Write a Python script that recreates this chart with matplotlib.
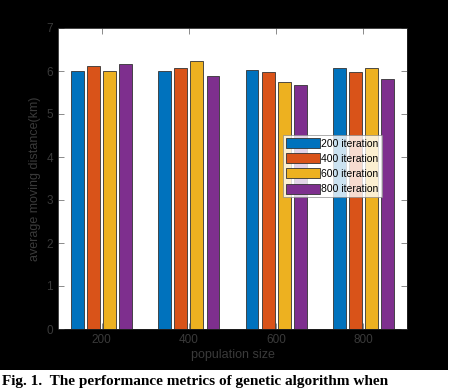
import numpy as np
import matplotlib.pyplot as plt

groups = ['200', '400', '600', '800']
series = ['200 iteration', '400 iteration', '600 iteration', '800 iteration']
it200 = [5.99, 6.01, 6.02, 6.06]
it400 = [6.12, 6.08, 5.98, 5.97]
it600 = [5.99, 6.23, 5.74, 6.06]
it800 = [6.16, 5.89, 5.68, 5.82]
colors = ['#0072BD', '#D95319', '#EDB120', '#7E2F8E']

fig = plt.figure(figsize=(4.74, 3.9), dpi=100)
fig.patch.set_facecolor('white')
# black backdrop behind the plot, caption below it
bg = fig.add_axes([0, 1 - 370 / 390, 448 / 474, 370 / 390])
bg.set_facecolor('black')
bg.set_xticks([])
bg.set_yticks([])
for s in bg.spines.values():
    s.set_visible(False)

ax = fig.add_axes([58 / 474, 1 - 329 / 390, 349 / 474, 301 / 390])
ax.set_facecolor('white')

x = np.arange(1, len(groups) + 1)
pitch = 0.184
width = 0.147
for i, (vals, name) in enumerate(zip([it200, it400, it600, it800], series)):
    ax.bar(x + (i - 1.5) * pitch, vals, width, color=colors[i],
           edgecolor='#333333', linewidth=0.6, label=name)

ax.set_xlim(0.5, 4.5)
ax.set_ylim(0, 7)
ax.set_xticks(x)
ax.set_xticklabels(groups)
ax.set_yticks(range(0, 8))
txt = '#3a3a3a'
ax.tick_params(direction='in', top=True, right=True, length=4, width=0.6,
               color='#777777', labelcolor=txt, labelsize=8.5)
for lab in ax.get_xticklabels() + ax.get_yticklabels():
    lab.set_family('Liberation Sans')
for s in ax.spines.values():
    s.set_color('#222222')
    s.set_linewidth(0.6)
ax.set_xlabel('population size', color=txt, fontsize=9, family='Liberation Sans', labelpad=2)
ax.set_ylabel('average moving distance(km)', color=txt, fontsize=9, family='Liberation Sans', labelpad=4)

leg = ax.legend(loc='upper left', bbox_to_anchor=(0.645, 0.645),
                prop={'family': 'Liberation Sans', 'size': 7.5},
                frameon=True, fancybox=False, borderpad=0.3, labelspacing=0.45,
                handlelength=3.2, handleheight=1.1, handletextpad=0.15, borderaxespad=0)
leg.get_frame().set_edgecolor('#888888')
leg.get_frame().set_linewidth(0.6)

fig.text(0.005, 0.004, 'Fig. 1.  The performance metrics of genetic algorithm when',
         family='Liberation Serif', fontweight='bold', fontsize=11, va='bottom', ha='left')

fig.savefig('out.png', dpi=100)
